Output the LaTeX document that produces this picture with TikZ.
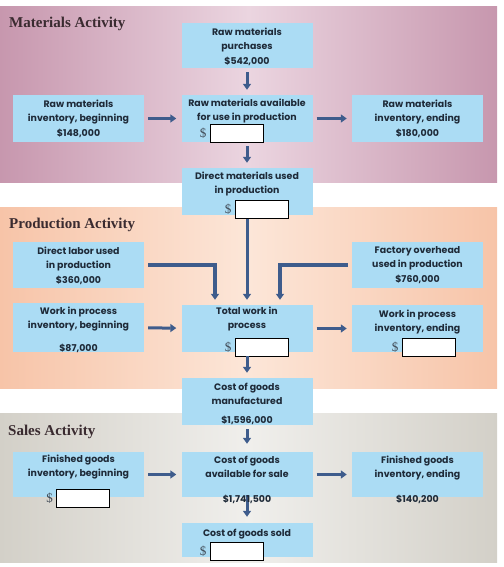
\documentclass[tikz,border=0pt]{standalone}
\usepackage{fontspec}
\setmainfont{Liberation Serif}
\newfontfamily\boxfont{Poppins}
\usetikzlibrary{positioning,arrows.meta}

\definecolor{boxblue}{HTML}{ABDCF4}
\definecolor{arrowblue}{HTML}{3E5C8C}
\definecolor{inktext}{HTML}{1E2A38}
\definecolor{titletext}{HTML}{3A2B30}
\definecolor{matedge}{HTML}{C797AE}
\definecolor{matmid}{HTML}{EBD5E0}
\definecolor{prodedge}{HTML}{F7C4A8}
\definecolor{prodmid}{HTML}{FCE6D8}
\definecolor{saleedge}{HTML}{D3D0C8}
\definecolor{salemid}{HTML}{F0EFEC}

\begin{document}
\begin{tikzpicture}[x=1pt, y=-1pt,
  box/.style={fill=boxblue, minimum width=131pt, inner sep=0pt},
  txt/.style={align=center, inner sep=0pt, text=inktext, font=\boxfont\bfseries\fontsize{9.4}{14}\selectfont},
  ans/.style={draw=black, fill=white, line width=0.8pt, minimum width=53pt, minimum height=18pt, inner sep=0pt},
  dollar/.style={inner sep=0pt, text=inktext!85, font=\fontsize{13}{13}\selectfont},
  title/.style={anchor=base west, inner sep=0pt, text=titletext, font=\bfseries\fontsize{15}{16}\selectfont},
  arr/.style={draw=arrowblue, line width=3pt, -{Triangle[width=8pt,length=6pt]}, shorten <=4pt, shorten >=5pt}]

\useasboundingbox (0,0) rectangle (503,567);

% bands
\fill[left color=matedge, right color=matedge, middle color=matmid] (0,7) rectangle (497,182);
\fill[left color=prodedge, right color=prodedge, middle color=prodmid] (0,207) rectangle (497,388);
\fill[left color=saleedge, right color=saleedge, middle color=salemid] (0,413) rectangle (497,562);

\node[title] (mat-title) at (9,28) {Materials Activity};
\node[title] (prod-title) at (9,228) {Production Activity};
\node[title] (sale-title) at (8,435) {Sales Activity};

% Materials Activity
\node[box, minimum height=45pt] (purch) at (247,45.5) {};
\node[txt] (purch-txt) at (247,47) {Raw materials\\purchases\\[1pt]\$542,000};

\node[box, minimum height=47pt] (rmbeg) at (78.5,118.5) {};
\node[txt] (rmbeg-txt) at (78.5,119) {Raw materials\\inventory, beginning\\[1pt]\$148,000};

\node[box, minimum height=47pt] (avail) at (247,118.5) {};
\node[txt] (avail-txt) at (247,110.5) {Raw materials available\\for use in production};
\node[ans] (avail-ans) at (236.5,133.5) {};
\node[dollar, left=3pt of avail-ans] (avail-dol) {\$};

\node[box, minimum height=47pt] (rmend) at (417.5,118.5) {};
\node[txt] (rmend-txt) at (417.5,119) {Raw materials\\inventory, ending\\[1pt]\$180,000};

\node[box, minimum height=47pt] (dm) at (247,191.5) {};
\node[txt] (dm-txt) at (247,183.5) {Direct materials used\\in production};
\node[ans] (dm-ans) at (261.5,209) {};
\node[dollar, left=3pt of dm-ans] (dm-dol) {\$};

\draw[arr] (purch) -- (avail);
\draw[arr] (rmbeg) -- (avail);
\draw[arr] (avail) -- (rmend);
\draw[arr] (avail) -- (dm);

% Production Activity
\node[box, minimum height=46pt] (labor) at (78.5,265) {};
\node[txt] (labor-txt) at (78.5,265.5) {Direct labor used\\in production\\[1pt]\$360,000};

\node[box, minimum height=46pt] (overhead) at (417.5,265) {};
\node[txt] (overhead-txt) at (417.5,265.5) {Factory overhead\\used in production\\[1pt]\$760,000};

\node[box, minimum height=49pt] (wipbeg) at (78.5,327.5) {};
\node[txt] (wipbeg-txt) at (78.5,329.5) {Work in process\\inventory, beginning\\[9pt]\$87,000};

\node[box, minimum height=47pt] (wip) at (247,328.5) {};
\node[txt] (wip-txt) at (247,318.5) {Total work in\\process};
\node[ans] (wip-ans) at (261.5,347.5) {};
\node[dollar, left=3pt of wip-ans] (wip-dol) {\$};

\node[box, minimum height=47pt] (wipend) at (417.5,328.5) {};
\node[txt] (wipend-txt) at (417.5,322) {Work in process\\inventory, ending};
\node[ans] (wipend-ans) at (428.5,347.5) {};
\node[dollar, left=3pt of wipend-ans] (wipend-dol) {\$};

\node[box, minimum height=47pt] (cogm) at (247,401.5) {};
\node[txt] (cogm-txt) at (247,403.5) {Cost of goods\\manufactured\\[5pt]\$1,596,000};

\draw[arr] (dm) -- (wip);
\draw[arr, line width=3.5pt] (labor.east) -| ([xshift=-32pt]wip.north);
\draw[arr, line width=3.5pt] (overhead.west) -| ([xshift=33pt]wip.north);
\draw[arr] (wipbeg) -- (wip);
\draw[arr] (wip) -- (wipend);
\draw[arr] (wip) -- (cogm);

% Sales Activity
\node[box, minimum height=45pt] (fgbeg) at (78.5,474.5) {};
\node[txt] (fgbeg-txt) at (78.5,467) {Finished goods\\inventory, beginning};
\node[ans] (fgbeg-ans) at (83,498.5) {};
\node[dollar, left=3pt of fgbeg-ans] (fgbeg-dol) {\$};

\node[box, minimum height=45pt] (cogafs) at (247,474.5) {};
\node[txt] (cogafs-txt) at (247,467) {Cost of goods\\available for sale};

\node[box, minimum height=45pt] (fgend) at (417.5,474.5) {};
\node[txt] (fgend-txt) at (417.5,468) {Finished goods\\inventory, ending};
\node[txt] (fgend-val) at (417.5,499) {\$140,200};

\node[box, minimum height=34pt] (cogs) at (247,540) {};
\node[txt] (cogs-txt) at (247,534) {Cost of goods sold};
\node[ans] (cogs-ans) at (236.5,551) {};
\node[dollar, left=3pt of cogs-ans] (cogs-dol) {\$};

\draw[arr, shorten >=8pt] (cogm) -- (cogafs);
\draw[arr] (fgbeg) -- (cogafs);
\draw[arr] (cogafs) -- (fgend);
\draw[arr, shorten <=-2pt, shorten >=6pt] (cogafs) -- (cogs);
\node[txt] (cogafs-val) at (247,499) {\$1,741,500};

\end{tikzpicture}
\end{document}
